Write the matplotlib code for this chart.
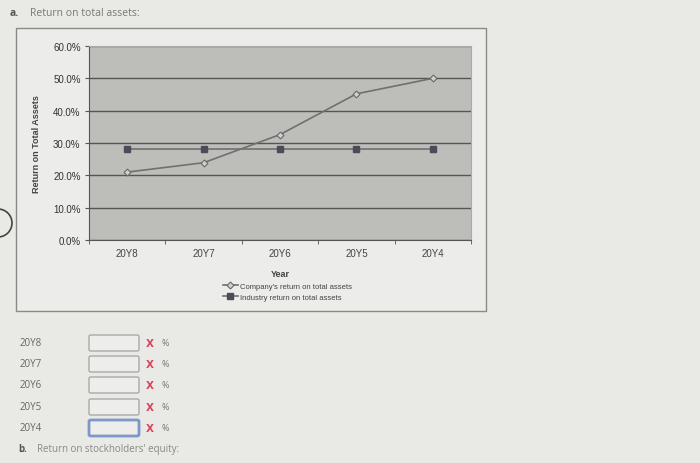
import matplotlib.pyplot as plt
from matplotlib.patches import Rectangle, FancyBboxPatch, Arc
import numpy as np

years = ['20Y8', '20Y7', '20Y6', '20Y5', '20Y4']
company = [21.0, 23.9, 32.6, 45.2, 50.0]
industry = [28.2, 28.2, 28.2, 28.2, 28.2]
y_ticks = [0, 10, 20, 30, 40, 50, 60]

W, H = 700, 464
fig = plt.figure(figsize=(7, 4.64), dpi=100)
fig.patch.set_facecolor('#e9e9e6')
plt.rcParams['font.family'] = ['Liberation Sans', 'DejaVu Sans']


def fx(px):
    return px / W


def fy(py):
    return 1 - py / H


# chart frame (behind the axes)
fig.patches.append(Rectangle((fx(16), fy(312)), fx(470), (312 - 29) / H,
                             transform=fig.transFigure, facecolor='#ececea',
                             edgecolor='#8a8a88', lw=1, zorder=-1))

ax = fig.add_axes([fx(89), fy(241), fx(382), 194 / H])
ax.set_facecolor('#bdbdba')
x = np.arange(len(years))
ax.plot(x, company, color='#707070', lw=1.2, marker='D', ms=3.5,
        mfc='#d0d0ce', mec='#6a6a6a', mew=0.8,
        label="Company's return on total assets")
ax.plot(x, industry, color='#707070', lw=1.2, marker='s', ms=4.5,
        mfc='#4c4c58', mec='#4c4c58',
        label='Industry return on total assets')

ax.set_xlim(-0.5, len(years) - 0.5)
ax.set_ylim(0, 60)
ax.set_yticks(y_ticks)
ax.set_yticklabels([f'{v:.1f}%' for v in y_ticks], fontsize=7, color='#333333')
ax.set_xticks(x)
ax.set_xticklabels(years, fontsize=7, color='#444444')
ax.set_xticks(np.arange(len(years) + 1) - 0.5, minor=True)
ax.tick_params(axis='x', which='major', length=0, pad=6)
ax.tick_params(axis='x', which='minor', length=3, color='#555555')
ax.tick_params(axis='y', length=3, color='#555555', pad=3)
ax.grid(axis='y', color='#555555', lw=1)
ax.set_axisbelow(True)
for s in ['top', 'right']:
    ax.spines[s].set_color('#aaaaaa')
    ax.spines[s].set_linewidth(0.8)
for s in ['left', 'bottom']:
    ax.spines[s].set_color('#555555')
ax.set_ylabel('Return on Total Assets', fontsize=6.5, fontweight='bold',
              color='#444444', labelpad=9)
ax.set_xlabel('Year', fontsize=6.5, fontweight='bold', color='#444444', labelpad=8)
leg = ax.legend(loc='upper center', bbox_to_anchor=(0.52, -0.205), frameon=False,
                fontsize=5.5, handlelength=2.0, handletextpad=0.3,
                labelspacing=0.45, borderaxespad=0)
for t in leg.get_texts():
    t.set_color('#444444')

# page text
fig.text(fx(10), fy(14), 'a.', fontsize=7.5, fontweight='bold', color='#555555',
         va='center', family='Open Sans')
fig.text(fx(30), fy(14), 'Return on total assets:', fontsize=7.5, color='#777777',
         va='center', family='Open Sans')

row_y = [344, 365, 386, 408, 429]
for i, (yr, py) in enumerate(zip(years, row_y)):
    fig.text(fx(20), fy(py), yr, fontsize=7, color='#666666', va='center',
             family='Open Sans')
    last = i == len(years) - 1
    fig.patches.append(FancyBboxPatch(
        (fx(89), fy(py + 8)), fx(50), 16 / H, boxstyle='round,pad=0,rounding_size=0.003',
        transform=fig.transFigure, facecolor='#ededeb',
        edgecolor='#7d97c9' if last else '#a9a9a7', lw=2 if last else 1))
    fig.text(fx(146), fy(py), 'X', fontsize=7.5, color='#d9445a', va='center',
             fontweight='bold', family='DejaVu Sans')
    fig.text(fx(161), fy(py), '%', fontsize=6.5, color='#777777', va='center',
             family='Open Sans')

fig.text(fx(18), fy(450), 'b.', fontsize=7, fontweight='bold', color='#555555',
         va='center', family='Open Sans')
fig.text(fx(37), fy(450), "Return on stockholders' equity:", fontsize=7,
         color='#888888', va='center', family='Open Sans')

# partially visible radio circle at the left edge
fig.patches.append(Arc((fx(-2), fy(224)), 28 / W, 28 / H, transform=fig.transFigure,
                       theta1=-90, theta2=90, color='#444444', lw=1.2))

fig.savefig('out.png', dpi=100, facecolor=fig.get_facecolor())
